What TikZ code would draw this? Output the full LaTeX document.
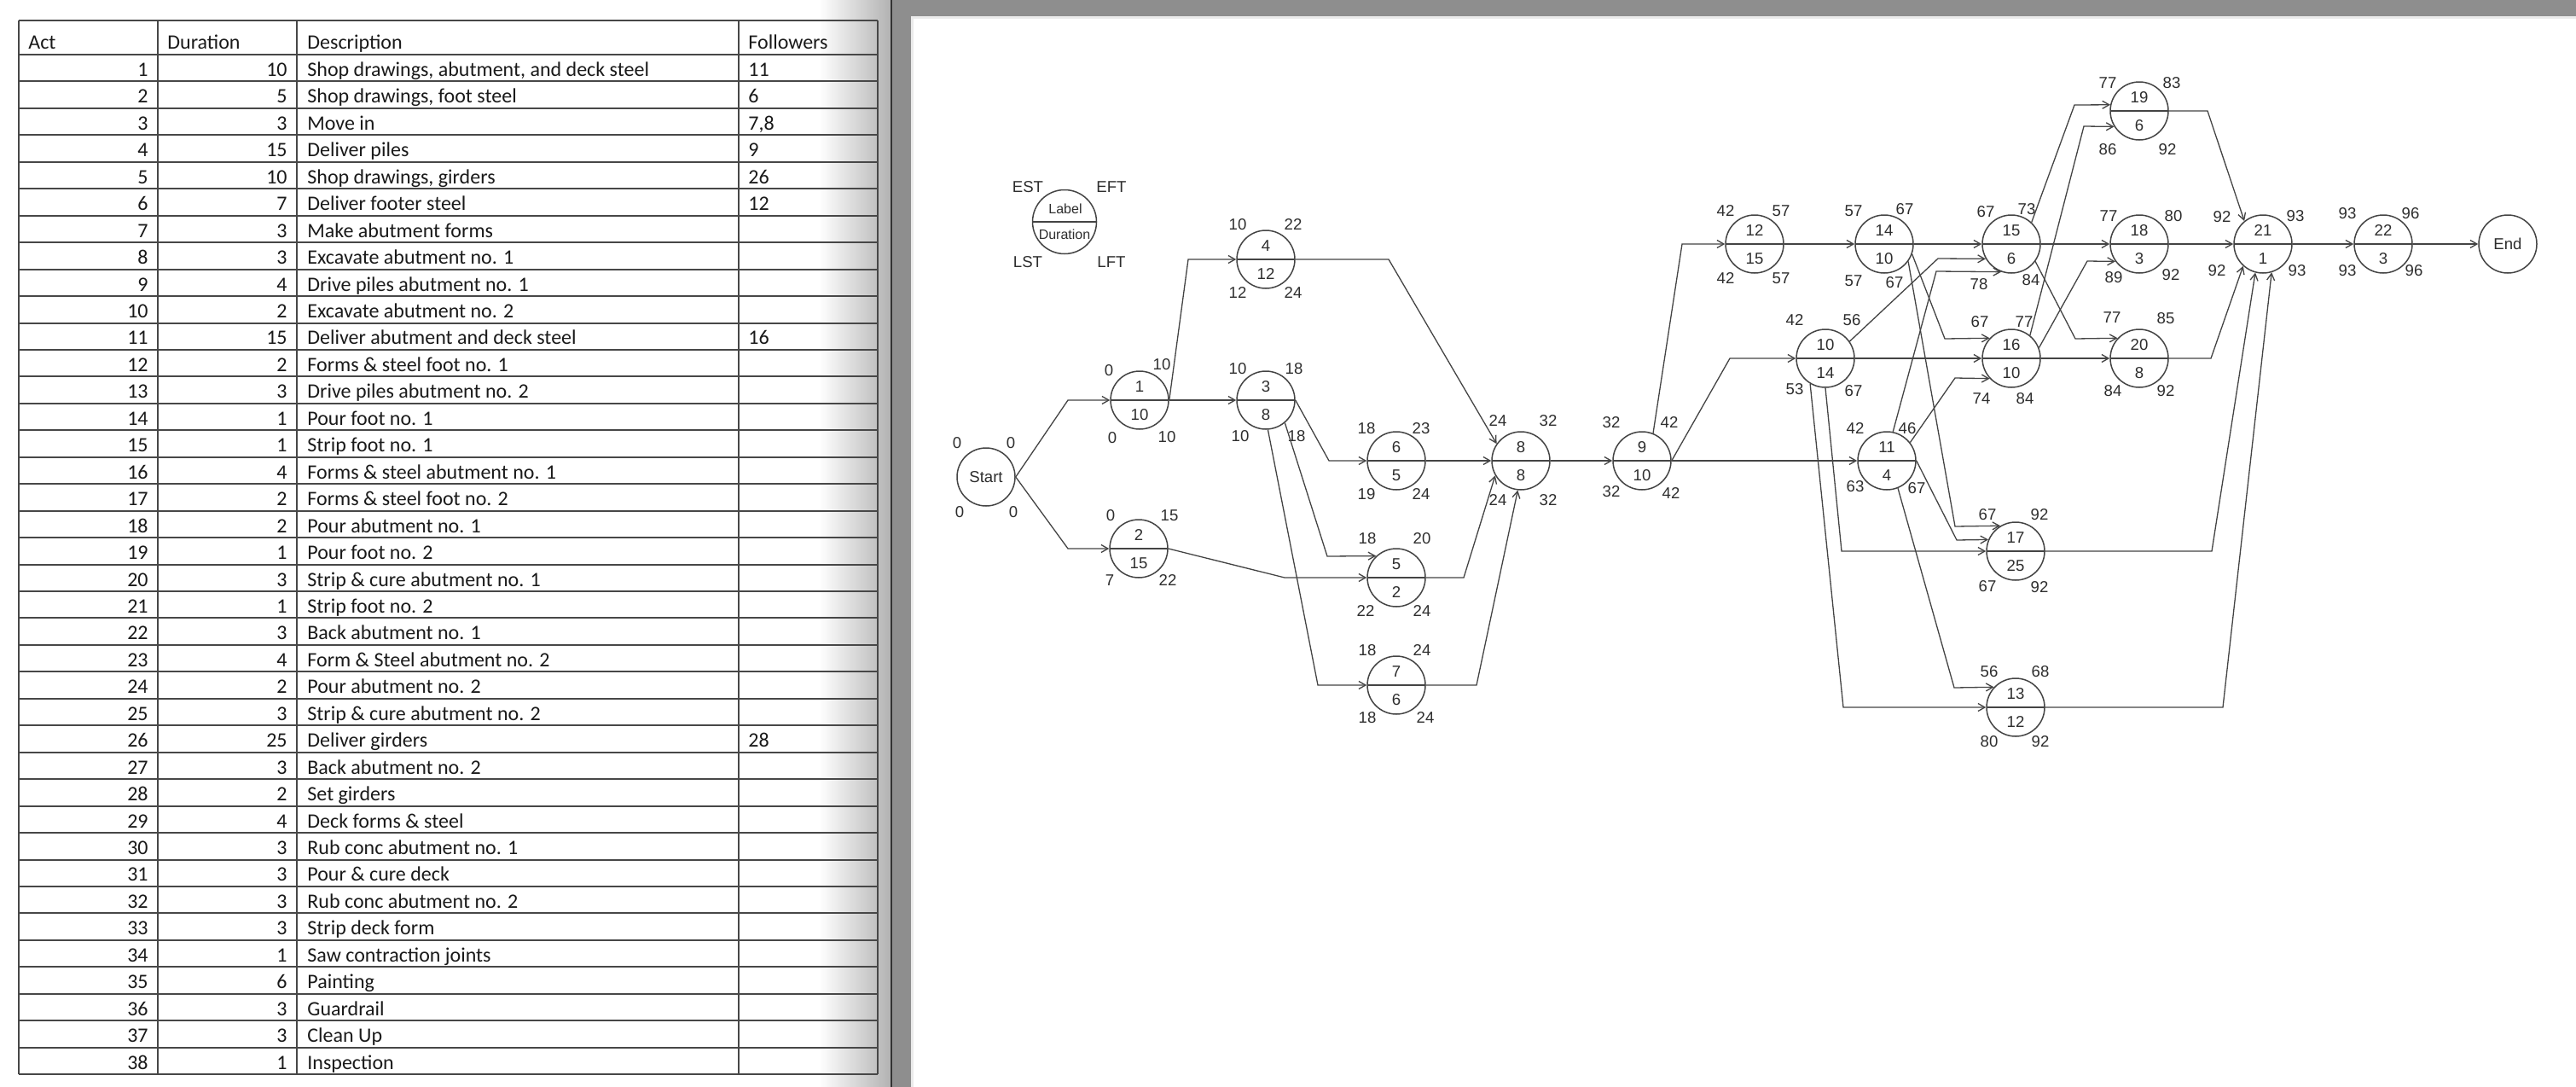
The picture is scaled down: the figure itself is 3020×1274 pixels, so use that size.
\documentclass[tikz,border=0pt]{standalone}
\usepackage{fontspec}
\setmainfont{Liberation Sans}
\newfontfamily\tblfont{Carlito}
\usetikzlibrary{arrows.meta,calc}
\definecolor{ln}{HTML}{444444}
\definecolor{tx}{HTML}{2E2E2E}
\definecolor{gridc}{HTML}{474747}
\definecolor{panec}{HTML}{8E8E8E}
\definecolor{pageedge}{HTML}{EBEBEB}
\definecolor{ttc}{HTML}{1A1A1A}
\newcommand\trow[4]{%
  \pgfmathsetmacro\rb{64+#1*31.45-6}%
  \node[ttxt,anchor=base east] (act-#1) at (174,\rb) {#1};
  \node[ttxt,anchor=base east] (dur-#1) at (337,\rb) {#2};
  \node[ttxt,anchor=base west] (desc-#1) at (360,\rb) {#3};
  \node[ttxt,anchor=base west] (fol-#1) at (877,\rb) {#4};
}
\newcommand\actv[5]{%
  \node[actc] (#1) at (#2,#3) {};
  \node[ntx] (#1-lab) at (#2,#3-16) {#4};
  \node[ntx] (#1-dur) at (#2,#3+17) {#5};
}
\newcommand\tm[4]{\node[ntx] (#1) at (#2,#3) {#4};}
\begin{document}
\begin{tikzpicture}[x=0.5pt,y=-0.5pt,
  ttxt/.style={font=\tblfont\fontsize{12}{14}\selectfont, text=ttc, inner sep=0pt},
  hline/.style={draw=gridc, line width=1pt},
  vline/.style={draw=gridc, line width=0.7pt},
  ntx/.style={font=\fontsize{9.3}{10}\selectfont, text=tx, inner sep=0pt},
  smalltx/.style={font=\fontsize{8}{9}\selectfont, text=tx, inner sep=0pt},
  circ/.style={circle, draw=ln, line width=0.75pt, minimum size=34pt, inner sep=0pt},
  actc/.style={circ, path picture={\draw[ln, line width=0.65pt] (path picture bounding box.west) -- (path picture bounding box.east);}},
  legc/.style={actc, minimum size=37.5pt},
  edge/.style={draw=ln, line width=0.65pt, -{Straight Barb[length=4pt,width=4.5pt]}}
]
\useasboundingbox (0,0) rectangle (3020,1274);
% ---------- background panes ----------
\fill[white] (0,0) rectangle (3020,1274);
\shade[left color=white, right color=black!30] (960,0) rectangle (1044,1274);
\fill[black!80] (1044,0) rectangle (1046,1274);
\fill[panec] (1046,0) rectangle (3020,19);
\fill[panec] (1046,0) rectangle (1068,1274);
\fill[pageedge] (1068,19) rectangle (3020,1274);
\fill[white] (1071,22) rectangle (3020,1274);
% ---------- table ----------
\draw[hline] (22,24) -- (1029,24);
\foreach \k in {0,...,38} \draw[hline] (22,{64+\k*31.45}) -- (1029,{64+\k*31.45});
\foreach \xx in {22,185,348,866,1029} \draw[vline] (\xx,24) -- (\xx,1259);
\node[ttxt,anchor=base west] (h-act) at (33,57) {Act};
\node[ttxt,anchor=base west] (h-dur) at (196,57) {Duration};
\node[ttxt,anchor=base west] (h-desc) at (360,57) {Description};
\node[ttxt,anchor=base west] (h-fol) at (877,57) {Followers};
\trow{1}{10}{Shop drawings, abutment, and deck steel}{11}
\trow{2}{5}{Shop drawings, foot steel}{6}
\trow{3}{3}{Move in}{7,8}
\trow{4}{15}{Deliver piles}{9}
\trow{5}{10}{Shop drawings, girders}{26}
\trow{6}{7}{Deliver footer steel}{12}
\trow{7}{3}{Make abutment forms}{}
\trow{8}{3}{Excavate abutment no. 1}{}
\trow{9}{4}{Drive piles abutment no. 1}{}
\trow{10}{2}{Excavate abutment no. 2}{}
\trow{11}{15}{Deliver abutment and deck steel}{16}
\trow{12}{2}{Forms \& steel foot no. 1}{}
\trow{13}{3}{Drive piles abutment no. 2}{}
\trow{14}{1}{Pour foot no. 1}{}
\trow{15}{1}{Strip foot no. 1}{}
\trow{16}{4}{Forms \& steel abutment no. 1}{}
\trow{17}{2}{Forms \& steel foot no. 2}{}
\trow{18}{2}{Pour abutment no. 1}{}
\trow{19}{1}{Pour foot no. 2}{}
\trow{20}{3}{Strip \& cure abutment no. 1}{}
\trow{21}{1}{Strip foot no. 2}{}
\trow{22}{3}{Back abutment no. 1}{}
\trow{23}{4}{Form \& Steel abutment no. 2}{}
\trow{24}{2}{Pour abutment no. 2}{}
\trow{25}{3}{Strip \& cure abutment no. 2}{}
\trow{26}{25}{Deliver girders}{28}
\trow{27}{3}{Back abutment no. 2}{}
\trow{28}{2}{Set girders}{}
\trow{29}{4}{Deck forms \& steel}{}
\trow{30}{3}{Rub conc abutment no. 1}{}
\trow{31}{3}{Pour \& cure deck}{}
\trow{32}{3}{Rub conc abutment no. 2}{}
\trow{33}{3}{Strip deck form}{}
\trow{34}{1}{Saw contraction joints}{}
\trow{35}{6}{Painting}{}
\trow{36}{3}{Guardrail}{}
\trow{37}{3}{Clean Up}{}
\trow{38}{1}{Inspection}{}
% ---------- legend ----------
\node[legc] (leg) at (1248,260) {};
\node[smalltx] (leg-lab) at (1249,245) {Label};
\node[smalltx] (leg-dur) at (1248,275) {Duration};
\tm{leg-est}{1205}{219}{EST}
\tm{leg-eft}{1303}{219}{EFT}
\tm{leg-lst}{1205}{307}{LST}
\tm{leg-lft}{1303}{307}{LFT}
% ---------- nodes ----------
\node[circ,ntx] (s) at (1156,559) {Start};
\node[circ,ntx] (e) at (2940,286) {End};
\actv{n1}{1336}{469}{1}{10}
\actv{n2}{1335}{643}{2}{15}
\actv{n3}{1484}{469}{3}{8}
\actv{n4}{1484}{304}{4}{12}
\actv{n5}{1637}{677}{5}{2}
\actv{n6}{1637}{540}{6}{5}
\actv{n7}{1637}{803}{7}{6}
\actv{n8}{1783}{540}{8}{8}
\actv{n9}{1925}{540}{9}{10}
\actv{n10}{2140}{420}{10}{14}
\actv{n11}{2212}{540}{11}{4}
\actv{n12}{2057}{286}{12}{15}
\actv{n13}{2363}{829}{13}{12}
\actv{n14}{2209}{286}{14}{10}
\actv{n15}{2358}{286}{15}{6}
\actv{n16}{2358}{420}{16}{10}
\actv{n17}{2363}{646}{17}{25}
\actv{n18}{2508}{286}{18}{3}
\actv{n19}{2508}{130}{19}{6}
\actv{n20}{2508}{420}{20}{8}
\actv{n21}{2653}{286}{21}{1}
\actv{n22}{2794}{286}{22}{3}
% ---------- times ----------
\tm{s-a}{1122}{519}{0}\tm{s-b}{1185}{519}{0}\tm{s-c}{1125}{600}{0}\tm{s-d}{1188}{600}{0}
\tm{n1-a}{1300}{434}{0}\tm{n1-b}{1362}{427}{10}\tm{n1-c}{1304}{513}{0}\tm{n1-d}{1368}{512}{10}
\tm{n2-a}{1302}{604}{0}\tm{n2-b}{1371}{604}{15}\tm{n2-c}{1301}{680}{7}\tm{n2-d}{1369}{680}{22}
\tm{n3-a}{1451}{432}{10}\tm{n3-b}{1517}{432}{18}\tm{n3-c}{1454}{511}{10}\tm{n3-d}{1520}{511}{18}
\tm{n4-a}{1451}{263}{10}\tm{n4-b}{1516}{263}{22}\tm{n4-c}{1451}{343}{12}\tm{n4-d}{1516}{343}{24}
\tm{n5-a}{1603}{631}{18}\tm{n5-b}{1667}{631}{20}\tm{n5-c}{1601}{716}{22}\tm{n5-d}{1667}{716}{24}
\tm{n6-a}{1602}{502}{18}\tm{n6-b}{1666}{502}{23}\tm{n6-c}{1602}{579}{19}\tm{n6-d}{1666}{579}{24}
\tm{n7-a}{1603}{762}{18}\tm{n7-b}{1667}{762}{24}\tm{n7-c}{1603}{841}{18}\tm{n7-d}{1671}{841}{24}
\tm{n8-a}{1756}{493}{24}\tm{n8-b}{1815}{493}{32}\tm{n8-c}{1756}{586}{24}\tm{n8-d}{1815}{586}{32}
\tm{n9-a}{1889}{495}{32}\tm{n9-b}{1957}{495}{42}\tm{n9-c}{1889}{576}{32}\tm{n9-d}{1959}{578}{42}
\tm{n10-a}{2104}{375}{42}\tm{n10-b}{2171}{375}{56}\tm{n10-c}{2104}{456}{53}\tm{n10-d}{2173}{458}{67}
\tm{n11-a}{2175}{502}{42}\tm{n11-b}{2236}{502}{46}\tm{n11-c}{2175}{570}{63}\tm{n11-d}{2247}{572}{67}
\tm{n12-a}{2023}{247}{42}\tm{n12-b}{2088}{247}{57}\tm{n12-c}{2023}{326}{42}\tm{n12-d}{2088}{326}{57}
\tm{n13-a}{2332}{787}{56}\tm{n13-b}{2392}{787}{68}\tm{n13-c}{2332}{869}{80}\tm{n13-d}{2392}{869}{92}
\tm{n14-a}{2173}{247}{57}\tm{n14-b}{2233}{245}{67}\tm{n14-c}{2173}{329}{57}\tm{n14-d}{2221}{331}{67}
\tm{n15-a}{2328}{248}{67}\tm{n15-b}{2376}{245}{73}\tm{n15-c}{2320}{333}{78}\tm{n15-d}{2381}{328}{84}
\tm{n16-a}{2321}{377}{67}\tm{n16-b}{2373}{377}{77}\tm{n16-c}{2323}{467}{74}\tm{n16-d}{2374}{467}{84}
\tm{n17-a}{2330}{603}{67}\tm{n17-b}{2391}{603}{92}\tm{n17-c}{2330}{687}{67}\tm{n17-d}{2391}{688}{92}
\tm{n18-a}{2472}{253}{77}\tm{n18-b}{2548}{253}{80}\tm{n18-c}{2478}{325}{89}\tm{n18-d}{2545}{322}{92}
\tm{n19-a}{2471}{97}{77}\tm{n19-b}{2546}{97}{83}\tm{n19-c}{2471}{175}{86}\tm{n19-d}{2541}{175}{92}
\tm{n20-a}{2476}{372}{77}\tm{n20-b}{2539}{373}{85}\tm{n20-c}{2477}{458}{84}\tm{n20-d}{2539}{458}{92}
\tm{n21-a}{2605}{254}{92}\tm{n21-b}{2691}{253}{93}\tm{n21-c}{2599}{317}{92}\tm{n21-d}{2693}{317}{93}
\tm{n22-a}{2752}{250}{93}\tm{n22-b}{2826}{250}{96}\tm{n22-c}{2752}{317}{93}\tm{n22-d}{2830}{317}{96}
% ---------- connectors ----------
\draw[edge] (s.east) -- (1252,469) -- (n1.west);
\draw[edge] (s.east) -- (1252,643) -- (n2.west);
\draw[edge] (n1.east) -- (n3.west);
\draw[edge] (n1.east) -- (1393,304) -- (n4.west);
\draw[edge] (n4.east) -- (1628,304) -- (n8.145);
\draw[edge] (n3.east) -- (1558,540) -- (n6.west);
\draw[edge] (n6.east) -- (n8.west);
\draw[edge] (n3.-50) -- (1556,652) -- (n5.133);
\draw[edge] (n3.-86) -- (1545,803) -- (n7.west);
\draw[edge] (n2.east) -- (1506,677) -- (n5.west);
\draw[edge] (n5.east) -- (1716,677) -- (n8.210);
\draw[edge] (n7.east) -- (1731,803) -- (n8.264);
\draw[edge] (n8.east) -- (n9.west);
\draw[edge] (n9.68) -- (1972,286) -- (n12.west);
\draw[edge] (n9.east) -- (2028,420) -- (n10.west);
\draw[edge] (n9.east) -- (n11.west);
\draw[edge] (n12.east) -- (n14.west);
\draw[edge] (n14.east) -- (n15.west);
\draw[edge] (n10.35) -- (2272,303) -- (n15.210);
\draw[edge] (n11.78) -- (2270,318) -- (n15.250);
\draw[edge] (n10.east) -- (n16.west);
\draw[edge] (n14.-20) -- (2280,397) -- (n16.137);
\draw[edge] (n11.38) -- (2292,443) -- (n16.223);
\draw[edge] (n14.-36) -- (2292,617) -- (n17.121);
\draw[edge] (n11.east) -- (2294,633) -- (n17.157);
\draw[edge] (n10.south) -- (2159,646) -- (n17.west);
\draw[edge] (n10.239) -- (2161,829) -- (n13.west);
\draw[edge] (n11.-68) -- (2291,806) -- (n13.137);
\draw[edge] (n15.47) -- (2432,123) -- (n19.168);
\draw[edge] (n16.51) -- (2443,148) -- (n19.212);
\draw[edge] (n15.east) -- (n18.west);
\draw[edge] (n16.21) -- (2447,306) -- (n18.216);
\draw[edge] (n15.-36) -- (2433,397) -- (n20.137);
\draw[edge] (n16.east) -- (n20.west);
\draw[edge] (n19.east) -- (2588,130) -- (n21.129);
\draw[edge] (n18.east) -- (n21.west);
\draw[edge] (n20.east) -- (2592,420) -- (n21.228);
\draw[edge] (n17.east) -- (2593,646) -- (n21.255);
\draw[edge] (n13.east) -- (2606,829) -- (n21.287);
\draw[edge] (n21.east) -- (n22.west);
\draw[edge] (n22.east) -- (e.west);
\end{tikzpicture}
\end{document}
